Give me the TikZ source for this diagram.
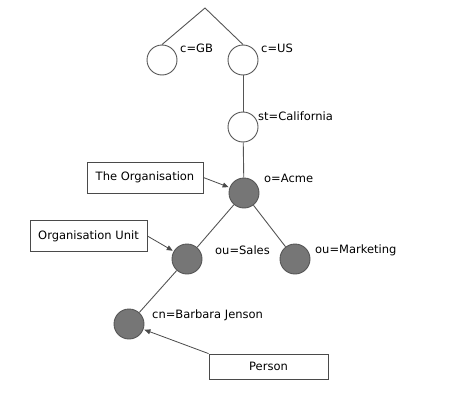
\documentclass[tikz,border=0pt]{standalone}
\usepackage{fontspec}
\setmainfont{DejaVu Sans}
\usetikzlibrary{arrows.meta}
\definecolor{edgegray}{HTML}{555555}
\definecolor{nodegray}{HTML}{767676}
\definecolor{boxgray}{HTML}{4A4A4A}

\begin{document}
\begin{tikzpicture}[
    x=1pt, y=-1pt,
    >={Triangle[length=6pt, width=5pt]},
    every node/.style={font=\fontsize{11.5}{13}\selectfont, text=black},
    entry/.style={circle, draw=edgegray, line width=0.9pt, minimum size=30pt, inner sep=0pt},
    objclass/.style={entry, fill=nodegray},
    dnlabel/.style={anchor=west, inner sep=0pt},
    tagbox/.style={draw=boxgray, line width=0.8pt, fill=white, minimum height=31pt},
  ]

  % Frame
  \useasboundingbox (0,0) rectangle (474,415);

  % Entries
  \coordinate (root) at (205,8);
  \node[entry] (gb) at (162,60) {};
  \node[entry] (us) at (243,60) {};
  \node[entry] (cal) at (243,127) {};
  \node[objclass] (acme) at (244,193) {};
  \node[objclass] (sales) at (187,259) {};
  \node[objclass] (mkt) at (295,259) {};
  \node[objclass] (bj) at (129,324) {};

  % DN labels
  \node[dnlabel] (gbl) at (180,48) {c=GB};
  \node[dnlabel] (usl) at (261,48) {c=US};
  \node[dnlabel] (call) at (258,116) {st=California};
  \node[dnlabel] (acmel) at (264,178) {o=Acme};
  \node[dnlabel] (salesl) at (215,250) {ou=Sales};
  \node[dnlabel] (mktl) at (315,250) {ou=Marketing};
  \node[dnlabel] (bjl) at (152,315) {cn=Barbara Jenson};

  % Tree
  \tikzset{
    treeedge/.style={edgegray, line width=0.9pt},
    pointer/.style={->, boxgray, line width=0.8pt, shorten >=1pt},
  }
  \draw[treeedge] (gb.north) -- (root) -- (us.north);
  \draw[treeedge] (us) -- (cal);
  \draw[treeedge] (cal) -- (acme);
  \draw[treeedge] (acme) -- (sales);
  \draw[treeedge] (acme) -- (mkt);
  \draw[treeedge] (sales) -- (bj);

  % Boxes
  \node[tagbox, minimum width=116pt] (org) at (145,177.5) {The Organisation};
  \node[tagbox, minimum width=117pt] (unit) at (88.5,236) {Organisation Unit};
  \node[tagbox, minimum width=119pt, minimum height=25pt] (person) at (268.5,366.5) {Person};

  \draw[pointer] (org.east) -- (acme);
  \draw[pointer] (unit.east) -- (sales);
  \draw[pointer] (person.north west) -- (bj);

\end{tikzpicture}
\end{document}
